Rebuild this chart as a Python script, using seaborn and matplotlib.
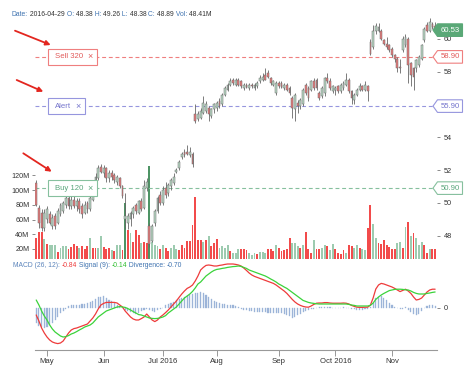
import numpy as np
import matplotlib
matplotlib.use("Agg")
import matplotlib.pyplot as plt
import matplotlib.transforms as mtransforms
from matplotlib.patches import Polygon, Rectangle
import seaborn as sns

# ---- OHLC per trading day (26 Apr .. 23 Nov 2016) ----
opens = [51.2, 49.7, 49.4, 48.5, 49.0, 49.3, 48.6, 49.2, 48.8, 49.3,
         49.5, 49.9, 50.3, 49.8, 50.2, 49.8, 50.1, 49.8, 49.4, 50.0,
         49.6, 50.2, 51.0, 51.5, 52.2, 51.8, 52.1, 51.5, 51.8, 51.7,
         51.3, 51.5, 51.0, 49.0, 48.8, 49.0, 49.3, 49.9, 49.4, 50.1,
         49.7, 50.9, 48.6, 47.7, 48.8, 49.5, 50.5, 50.0, 50.9, 50.6,
         51.0, 51.2, 51.9, 52.1, 52.8, 53.1, 53.1, 52.9, 53.0, 55.4,
         55.1, 55.2, 55.5, 55.6, 55.8, 55.3, 55.7, 55.8, 56.2, 56.0,
         56.6, 56.9, 57.2, 57.5, 57.2, 57.5, 57.4, 57.0, 57.2, 57.0,
         57.2, 57.0, 57.1, 57.4, 57.5, 57.8, 57.9, 57.6, 57.2, 56.7,
         57.3, 57.3, 57.0, 57.2, 57.0, 56.4, 55.7, 56.1, 55.9, 56.0,
         57.2, 57.0, 56.9, 57.4, 57.5, 56.7, 56.5, 56.7, 57.6, 57.4,
         56.8, 56.9, 57.1, 56.8, 57.0, 57.2, 57.5, 56.8, 56.3, 56.6,
         56.9, 57.1, 56.9, 57.1, 59.8, 59.5, 60.5, 60.5, 60.45, 59.9,
         59.7, 59.6, 59.4, 59.0, 58.8, 58.3, 59.3, 59.6, 60.0, 58.5,
         58.2, 58.2, 58.4, 58.8, 59.9, 60.85, 60.5, 60.9, 60.8]
highs = [51.4, 49.9, 49.6, 49.6, 49.8, 49.5, 49.3, 49.4, 49.7, 50.0,
         50.1, 50.4, 50.5, 50.4, 50.4, 50.3, 50.3, 50.0, 50.1, 50.1,
         50.4, 51.2, 51.8, 52.3, 52.4, 52.3, 52.2, 52.0, 52.0, 51.8,
         51.7, 51.6, 51.1, 50.6, 49.4, 49.5, 49.8, 50.0, 50.2, 50.3,
         51.4, 51.5, 48.8, 48.7, 49.6, 50.4, 50.7, 51.0, 51.3, 51.2,
         51.5, 51.8, 52.1, 52.6, 53.1, 53.3, 53.5, 53.4, 53.1, 56.0,
         55.6, 55.8, 56.5, 56.2, 55.9, 55.8, 56.1, 56.2, 56.4, 56.7,
         57.1, 57.3, 57.6, 57.6, 57.6, 57.6, 57.5, 57.3, 57.3, 57.3,
         57.3, 57.3, 57.4, 57.8, 57.9, 58.2, 58.1, 57.7, 57.5, 57.4,
         57.4, 57.4, 57.3, 57.3, 57.1, 56.5, 56.7, 56.3, 56.4, 57.0,
         57.3, 57.1, 57.5, 57.6, 57.6, 56.8, 57.1, 57.7, 57.9, 57.6,
         57.2, 57.1, 57.2, 57.3, 57.4, 57.9, 57.6, 56.9, 56.7, 57.0,
         57.3, 57.2, 57.4, 57.2, 60.0, 60.85, 60.95, 60.95, 60.6, 60.0,
         60.1, 59.7, 59.5, 59.1, 58.9, 58.8, 60.2, 60.3, 60.1, 58.6,
         58.3, 58.8, 59.0, 59.7, 60.7, 61.0, 61.25, 61.0, 61.0]
lows = [49.8, 48.5, 48.3, 48.3, 48.8, 48.7, 48.4, 48.4, 48.7, 49.2,
        49.4, 49.7, 49.6, 49.6, 49.7, 49.5, 49.4, 49.1, 49.3, 49.4,
        49.5, 50.1, 50.9, 51.4, 51.8, 51.6, 51.3, 51.3, 51.4, 51.2,
        51.1, 50.9, 50.3, 48.4, 48.4, 48.6, 49.1, 49.3, 49.3, 49.5,
        49.6, 50.7, 47.3, 47.6, 48.6, 49.4, 49.9, 49.9, 50.3, 50.4,
        50.8, 51.1, 51.8, 52.0, 52.7, 52.8, 52.9, 52.8, 52.2, 54.9,
        55.0, 55.1, 55.4, 55.5, 55.0, 55.2, 55.5, 55.6, 55.8, 55.9,
        56.5, 56.8, 57.1, 57.2, 57.1, 57.1, 57.0, 56.9, 57.0, 56.9,
        57.0, 56.9, 57.0, 57.3, 57.4, 57.5, 57.6, 57.2, 57.1, 56.6,
        57.0, 57.0, 56.9, 56.8, 56.6, 55.2, 55.0, 55.5, 55.7, 55.9,
        56.6, 56.2, 56.8, 56.9, 56.9, 56.3, 56.4, 56.5, 57.3, 56.9,
        56.7, 56.6, 56.7, 56.7, 56.9, 57.1, 56.7, 56.0, 56.0, 56.5,
        56.8, 56.8, 56.8, 56.2, 59.0, 59.4, 60.3, 60.4, 59.9, 59.6,
        59.4, 59.2, 58.9, 58.6, 58.0, 57.9, 59.2, 59.5, 57.3, 57.1,
        56.9, 58.0, 58.3, 58.7, 59.8, 60.4, 60.4, 60.6, 60.4]
closes = [49.9, 48.8, 48.5, 49.4, 49.6, 48.8, 49.1, 48.6, 49.5, 49.9,
          50.0, 50.3, 49.8, 50.2, 49.8, 50.1, 49.6, 49.3, 49.9, 49.6,
          50.3, 51.0, 51.6, 52.1, 51.9, 52.1, 51.5, 51.8, 51.6, 51.4,
          51.6, 51.0, 50.4, 49.2, 49.2, 49.4, 49.7, 49.5, 50.1, 49.6,
          51.0, 51.3, 47.5, 48.6, 49.5, 50.3, 50.0, 50.8, 50.5, 51.1,
          51.4, 51.6, 52.0, 52.5, 53.0, 52.9, 53.0, 53.1, 52.4, 55.0,
          55.4, 55.6, 56.1, 56.0, 55.4, 55.7, 56.0, 56.1, 55.9, 56.6,
          57.0, 57.2, 57.4, 57.3, 57.5, 57.2, 57.1, 57.2, 57.05, 57.2,
          57.1, 57.2, 57.3, 57.6, 57.7, 57.5, 57.7, 57.3, 57.4, 57.3,
          57.1, 57.05, 57.2, 56.9, 56.7, 55.8, 56.6, 55.9, 56.3, 56.9,
          56.7, 56.4, 57.4, 57.0, 57.0, 56.4, 57.0, 57.6, 57.4, 57.0,
          57.1, 57.0, 56.8, 57.2, 57.3, 57.5, 56.8, 56.4, 56.6, 56.9,
          57.1, 56.9, 57.2, 56.8, 59.1, 60.5, 60.8, 60.75, 60.0, 59.7,
          59.5, 59.3, 59.0, 58.8, 58.2, 58.2, 60.0, 60.1, 58.4, 57.8,
          57.7, 58.7, 58.9, 59.6, 60.6, 60.5, 61.0, 60.7, 60.53]

# volume in millions, and the colour class of each bar
volumes = [35, 43, 43, 33, 27, 25, 25, 25, 16, 22,
           24, 24, 20, 23, 27, 24, 22, 24, 20, 24,
           35, 22, 22, 22, 37, 23, 20, 22, 18, 17,
           25, 25, 18, 82, 46, 42, 30, 46, 39, 28,
           30, 28, 133, 30, 25, 24, 20, 25, 22, 17,
           22, 25, 20, 18, 25, 22, 31, 31, 52, 90,
           32, 32, 30, 32, 37, 24, 28, 33, 22, 24,
           22, 25, 17, 15, 14, 20, 20, 20, 18, 14,
           12, 14, 13, 16, 16, 15, 20, 20, 17, 25,
           22, 17, 18, 20, 35, 28, 28, 24, 22, 25,
           43, 20, 15, 32, 20, 20, 22, 25, 24, 18,
           27, 20, 15, 13, 18, 15, 25, 24, 22, 25,
           22, 20, 18, 48, 80, 54, 35, 28, 27, 32,
           25, 23, 20, 20, 28, 30, 22, 50, 57, 38,
           42, 35, 25, 30, 25, 14, 20, 20, 20]
vol_side = list("rrrgrgggrg" "ggrrrrgrrr" "grrggrrrgr" "ggrGrgrrrg" "rrGgggrgrr"
                "gggrrrrrrr" "rrgrgrrrgg" "ggrgggrrrg" "ggrgggrrrg" "rrrrrgggrg"
                "rrrgrrggrg" "grrrrgrrgg" "rggrrggrrr" "rrrrggrgrg" "rgggrrgrr")

# MACD panel
macd = [-0.35, -0.65, -1.00, -1.25, -1.45, -1.60, -1.70, -1.75, -1.78, -1.75,
        -1.65, -1.45, -1.25, -1.10, -1.03, -1.00, -0.95, -0.90, -0.85, -0.80,
        -0.65, -0.50, -0.30, -0.05, 0.15, 0.23, 0.28, 0.28, 0.28, 0.28,
        0.25, 0.15, 0.05, -0.15, -0.30, -0.45, -0.55, -0.60, -0.60, -0.53,
        -0.45, -0.30, -0.45, -0.60, -0.68, -0.60, -0.45, -0.35, -0.23, -0.10,
        0.05, 0.20, 0.35, 0.53, 0.70, 0.85, 0.98, 1.05, 1.15, 1.35,
        1.60, 1.90, 2.03, 2.13, 2.15, 2.13, 2.10, 2.10, 2.13, 2.15,
        2.18, 2.20, 2.20, 2.20, 2.18, 2.15, 2.10, 2.00, 1.88, 1.75,
        1.65, 1.58, 1.53, 1.48, 1.43, 1.38, 1.33, 1.28, 1.23, 1.15,
        1.05, 0.95, 0.85, 0.73, 0.58, 0.43, 0.30, 0.20, 0.13, 0.08,
        0.05, 0.04, 0.10, 0.18, 0.24, 0.25, 0.25, 0.27, 0.27, 0.25,
        0.24, 0.24, 0.24, 0.24, 0.25, 0.24, 0.20, 0.13, 0.08, 0.04,
        0.03, 0.03, 0.04, 0.04, 0.15, 0.50, 0.95, 1.15, 1.23, 1.20,
        1.15, 1.10, 1.05, 0.98, 0.90, 0.82, 0.88, 0.94, 0.85, 0.73,
        0.55, 0.40, 0.43, 0.50, 0.65, 0.80, 0.90, 0.94, 0.94]
signal = [0.40, 0.15, -0.15, -0.40, -0.60, -0.85, -1.05, -1.20, -1.30, -1.40,
          -1.45, -1.43, -1.38, -1.30, -1.25, -1.18, -1.10, -1.03, -0.95, -0.90,
          -0.85, -0.75, -0.60, -0.45, -0.35, -0.25, -0.15, -0.10, -0.05, 0.00,
          0.05, 0.07, 0.05, 0.03, -0.03, -0.10, -0.18, -0.25, -0.33, -0.35,
          -0.40, -0.45, -0.50, -0.52, -0.53, -0.52, -0.49, -0.45, -0.38, -0.25,
          -0.15, -0.05, 0.05, 0.20, 0.35, 0.50, 0.60, 0.70, 0.83, 1.00,
          1.20, 1.30, 1.45, 1.60, 1.70, 1.80, 1.88, 1.93, 1.95, 1.98,
          2.00, 2.03, 2.05, 2.07, 2.08, 2.10, 2.08, 2.03, 1.98, 1.90,
          1.85, 1.80, 1.75, 1.70, 1.65, 1.60, 1.53, 1.45, 1.38, 1.30,
          1.20, 1.13, 1.05, 0.98, 0.88, 0.78, 0.68, 0.58, 0.48, 0.38,
          0.33, 0.28, 0.25, 0.23, 0.21, 0.20, 0.20, 0.20, 0.20, 0.20,
          0.20, 0.20, 0.20, 0.20, 0.20, 0.20, 0.18, 0.15, 0.13, 0.10,
          0.10, 0.10, 0.10, 0.10, 0.13, 0.25, 0.43, 0.55, 0.65, 0.73,
          0.80, 0.87, 0.90, 0.93, 0.94, 0.94, 0.93, 0.91, 0.90, 0.85,
          0.78, 0.73, 0.70, 0.70, 0.70, 0.73, 0.75, 0.78, 0.80]
divergence = [-0.75, -0.90, -0.95, -1.00, -0.95, -0.85, -0.75, -0.60, -0.45, -0.25,
              -0.15, -0.03, 0.10, 0.15, 0.15, 0.15, 0.15, 0.20, 0.20, 0.25,
              0.30, 0.35, 0.45, 0.55, 0.55, 0.60, 0.50, 0.40, 0.35, 0.25,
              0.15, 0.05, -0.02, -0.10, -0.15, -0.20, -0.25, -0.30, -0.25, -0.15,
              -0.10, -0.05, -0.10, -0.15, -0.20, -0.10, -0.05, 0.02, 0.15, 0.20,
              0.25, 0.30, 0.40, 0.45, 0.50, 0.55, 0.60, 0.65, 0.70, 0.75,
              0.75, 0.80, 0.75, 0.65, 0.55, 0.45, 0.35, 0.30, 0.25, 0.22,
              0.20, 0.17, 0.15, 0.13, 0.10, 0.05, -0.05, -0.10, -0.10, -0.15,
              -0.15, -0.18, -0.20, -0.20, -0.20, -0.20, -0.25, -0.25, -0.25, -0.25,
              -0.25, -0.25, -0.30, -0.35, -0.40, -0.48, -0.45, -0.35, -0.28, -0.20,
              -0.15, -0.10, -0.05, -0.03, 0.02, 0.03, 0.03, 0.04, 0.04, 0.03,
              0.02, 0.02, 0.02, 0.02, 0.03, 0.02, 0.01, -0.03, -0.05, -0.08,
              -0.08, -0.08, -0.06, -0.05, 0.03, 0.25, 0.50, 0.55, 0.58, 0.48,
              0.38, 0.25, 0.15, 0.07, 0.02, -0.05, -0.03, 0.03, -0.10, -0.20,
              -0.30, -0.35, -0.28, -0.15, 0.02, 0.10, 0.15, 0.15, 0.12]

month_pos = [5, 26, 48, 68, 91, 112, 133]
month_labels = ["May", "Jun", "Jul 2016", "Aug", "Sep", "Oct 2016", "Nov"]
price_ticks = [48, 50, 52, 54, 58, 60]   # 56 sits under the 55.90 tag
vol_ticks = [20, 40, 60, 80, 100, 120]

order_labels = ["Sell 320", "Alert", "Buy 120"]
order_prices = [58.90, 55.90, 50.90]
order_colors = ["#ef7f7f", "#9696de", "#86c09e"]
order_text = ["#e25a5a", "#7474cc", "#5aa67c"]
last_price = 60.53

header = [("Date:", "#3f73b0"), (" 2016-04-29", "#333333"), (" O:", "#3f73b0"), (" 48.38", "#333333"),
          (" H:", "#3f73b0"), (" 49.26", "#333333"), (" L:", "#3f73b0"), (" 48.38", "#333333"),
          (" C:", "#3f73b0"), (" 48.89", "#333333"), (" Vol:", "#3f73b0"), (" 48.41M", "#333333")]
macd_header = [("MACD (26, 12): ", "#5b84bb"), ("-0.84", "#ee3b3b"), (" Signal (9): ", "#3f73b0"),
               ("-0.14", "#2fbf2f"), (" Divergence: ", "#3f73b0"), ("-0.70", "#3f73b0")]

sns.set_style("white")
plt.rcParams["font.family"] = ["Liberation Sans", "DejaVu Sans"]

W, H = 474, 372
fig = plt.figure(figsize=(W / 100, H / 100), dpi=100)


def fx(x):
    return x / W


def fy(y):
    return 1 - y / H


LEFT, RIGHT = 35, 437
ax_v = fig.add_axes([fx(LEFT), fy(259), fx(RIGHT) - fx(LEFT), (259 - 18) / H])
ax_p = ax_v.twinx()
ax_m = fig.add_axes([fx(LEFT), fy(350), fx(RIGHT) - fx(LEFT), (350 - 262) / H])

day = np.arange(1, len(closes) + 1)
xlim = (0.55, 149.7)
p_lo, p_hi = 46.58, 61.27
ppu = (259 - 18) / (p_hi - p_lo)  # pixels per price unit

# volume
vol_col = {"r": "#f24b4b", "g": "#9dcbb0", "G": "#4e9465"}
ax_v.bar(day, volumes, width=0.7, color=[vol_col[s] for s in vol_side], linewidth=0)
ax_v.set_ylim(6.4, 334)
ax_v.set_xlim(*xlim)
ax_v.set_xticks([])
ax_v.set_yticks(vol_ticks)
ax_v.set_yticklabels([f"{v}M" for v in vol_ticks])
ax_v.tick_params(axis="y", left=True, length=2.5, width=0.6, color="#777777",
                 labelsize=5.2, labelcolor="#333333", pad=1.5)

# candles
o, h, l, c = map(np.array, (opens, highs, lows, closes))
up = c >= o
ax_p.vlines(day, l, h, color="#666666", lw=0.6, zorder=3)
ax_p.bar(day, np.maximum(np.abs(c - o), 0.05), bottom=np.minimum(o, c), width=0.68,
         color=np.where(up, "#b9d8c4", "#e77b7b"), edgecolor="#6a6a6a", linewidth=0.35, zorder=4)
ax_p.set_ylim(p_lo, p_hi)
ax_p.set_xlim(*xlim)
ax_p.set_yticks(price_ticks)
ax_p.tick_params(axis="y", right=True, length=2.5, width=0.6, color="#777777",
                 labelsize=5.3, labelcolor="#333333", pad=2.5)
for ax in (ax_v, ax_p):
    for s in ax.spines.values():
        s.set_visible(False)

# order lines, left boxes and right price tags
trans = mtransforms.blended_transform_factory(fig.transFigure, ax_p.transData)
box_right = [97, 85, 97]
for lab, val, ec, tc, br in zip(order_labels, order_prices, order_colors, order_text, box_right):
    ax_p.axhline(val, color=ec, lw=0.8, ls=(0, (3.5, 2.5)), zorder=2)
    ax_p.add_patch(Rectangle((fx(48), val - 7.8 / ppu), fx(br) - fx(48), 15.6 / ppu, transform=trans,
                             fc="white", ec=ec, lw=0.8, zorder=10, clip_on=False))
    ax_p.text(fx(55), val, lab, transform=trans, color=tc, fontsize=5.6, va="center", ha="left", zorder=11)
    ax_p.text(fx(br - 7), val, "×", transform=trans, color=tc, fontsize=6.5, va="center", ha="center", zorder=11)


def tag(val, fc, ec, tc, text):
    hh = 6.3 / ppu
    pts = [(fx(433), val), (fx(437.5), val + hh), (fx(462.5), val + hh),
           (fx(462.5), val - hh), (fx(437.5), val - hh)]
    ax_p.add_patch(Polygon(pts, closed=True, transform=trans, fc=fc, ec=ec, lw=0.8, zorder=10, clip_on=False))
    ax_p.text(fx(450), val, text, transform=trans, color=tc, fontsize=5.6, va="center", ha="center", zorder=11)


for val, ec, tc in zip(order_prices, order_colors, order_text):
    tag(val, "white", ec, tc, f"{val:.2f}")
tag(last_price, "#5aa877", "#5aa877", "white", f"{last_price:.2f}")

# MACD
ax_m.bar(day, divergence, width=0.4, color="#9cb4d8", edgecolor="#9cb4d8", linewidth=0.25, zorder=1)
sns.lineplot(x=day, y=macd, ax=ax_m, color="#ee3b3b", lw=0.9)
sns.lineplot(x=day, y=signal, ax=ax_m, color="#3bd33b", lw=0.9)
ax_m.set_xlim(*xlim)
ax_m.set_ylim(-2.1, 2.3)
ax_m.set_xlabel("")
ax_m.set_ylabel("")
ax_m.yaxis.tick_right()
ax_m.set_yticks([0])
ax_m.set_xticks(month_pos)
ax_m.set_xticklabels(month_labels)
ax_m.tick_params(axis="y", right=True, length=2.5, width=0.6, color="#777777",
                 labelsize=5.3, labelcolor="#333333", pad=2.5)
ax_m.tick_params(axis="x", bottom=True, length=4, width=0.6, color="#888888",
                 labelsize=5.6, labelcolor="#333333", pad=2)
for name, s in ax_m.spines.items():
    s.set_visible(name == "bottom")
ax_m.spines["bottom"].set_color("#999999")
ax_m.spines["bottom"].set_linewidth(0.8)
ax_m.patch.set_alpha(0)


def chain(x, y, parts, size):
    t = fig.text(fx(x), fy(y), parts[0][0], color=parts[0][1], fontsize=size, va="center", ha="left")
    for s, col in parts[1:]:
        t = ax_v.annotate(s, xy=(1, 0.5), xycoords=t, va="center", ha="left",
                          color=col, fontsize=size, annotation_clip=False)


chain(12, 14.3, header, 4.9)
chain(12.7, 265.7, macd_header, 4.9)

# red arrows pointing at the order boxes
arrows = [(15, 30.7, 50.7, 45), (16.7, 80, 43.3, 91.7), (23.3, 153.3, 51.7, 171.7)]
for xa, ya, xb, yb in arrows:
    ax_v.annotate("", xy=(fx(xb), fy(yb)), xytext=(fx(xa), fy(ya)), xycoords="figure fraction",
                  arrowprops=dict(arrowstyle="-|>", color="#e3261f", lw=1.3, mutation_scale=7,
                                  shrinkA=0, shrinkB=0), annotation_clip=False)

fig.savefig("out.png", dpi=100)
